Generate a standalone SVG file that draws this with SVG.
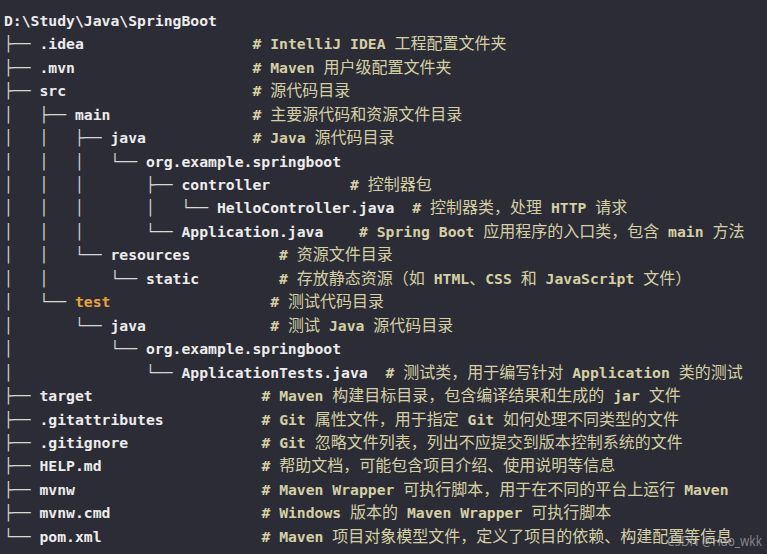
<svg xmlns="http://www.w3.org/2000/svg" width="767" height="554" viewBox="0 0 767 554">
<style>
text{font-family:"DejaVu Sans Mono","Liberation Mono","Noto Sans CJK SC",monospace;font-size:14.74px;font-weight:bold;white-space:pre}
.t{fill:#d8d8d8}
.n{fill:#ececec}
.o{fill:#e8a33a}
.m{fill:#d4d0a4}
.c{font-family:"Noto Sans CJK SC","Noto Sans",sans-serif;font-size:16px;font-weight:normal}
.w{font-family:"Noto Sans","Liberation Sans",sans-serif;font-size:14px;font-weight:normal;fill:#d0d0d0;fill-opacity:0.55}
</style>
<rect width="767" height="554" fill="#2c2c36"/>
<g id="connectors"></g>
<g id="line0"><text x="4" y="25.8" class="n" xml:space="preserve">D:\Study\Java\SpringBoot</text></g>
<g id="line1"><text x="4" y="49.3" class="t" xml:space="preserve">├── <tspan class="n">.idea</tspan></text><text x="252.5" y="49.3" class="m" xml:space="preserve">#<tspan> IntelliJ IDEA </tspan><tspan class="c">工程配置文件夹</tspan></text></g>
<g id="line2"><text x="4" y="72.7" class="t" xml:space="preserve">├── <tspan class="n">.mvn</tspan></text><text x="252.5" y="72.7" class="m" xml:space="preserve"># Maven <tspan class="c">用户级配置文件夹</tspan></text></g>
<g id="line3"><text x="4" y="96.2" class="t" xml:space="preserve">├── <tspan class="n">src</tspan></text><text x="252.5" y="96.2" class="m" xml:space="preserve"># <tspan class="c">源代码目录</tspan></text></g>
<g id="line4"><text x="4" y="119.6" class="t" xml:space="preserve">│   ├── <tspan class="n">main</tspan></text><text x="252.5" y="119.6" class="m" xml:space="preserve"># <tspan class="c">主要源代码和资源文件目录</tspan></text></g>
<g id="line5"><text x="4" y="143.1" class="t" xml:space="preserve">│   │   ├── <tspan class="n">java</tspan></text><text x="252.5" y="143.1" class="m" xml:space="preserve"># Java <tspan class="c">源代码目录</tspan></text></g>
<g id="line6"><text x="4" y="166.5" class="t" xml:space="preserve">│   │   │   └── <tspan class="n">org.example.springboot</tspan></text></g>
<g id="line7"><text x="4" y="190.0" class="t" xml:space="preserve">│   │   │       ├── <tspan class="n">controller</tspan></text><text x="350.1" y="190.0" class="m" xml:space="preserve"># <tspan class="c">控制器包</tspan></text></g>
<g id="line8"><text x="4" y="213.4" class="t" xml:space="preserve">│   │   │       │   └── <tspan class="n">HelloController.java</tspan></text><text x="412.3" y="213.4" class="m" xml:space="preserve"># <tspan class="c">控制器类，处理</tspan> HTTP <tspan class="c">请求</tspan></text></g>
<g id="line9"><text x="4" y="236.9" class="t" xml:space="preserve">│   │   │       └── <tspan class="n">Application.java</tspan></text><text x="359" y="236.9" class="m" xml:space="preserve"># Spring Boot <tspan class="c">应用程序的入口类，包含</tspan> main <tspan class="c">方法</tspan></text></g>
<g id="line10"><text x="4" y="260.3" class="t" xml:space="preserve">│   │   └── <tspan class="n">resources</tspan></text><text x="279.1" y="260.3" class="m" xml:space="preserve"># <tspan class="c">资源文件目录</tspan></text></g>
<g id="line11"><text x="4" y="283.8" class="t" xml:space="preserve">│   │       └── <tspan class="n">static</tspan></text><text x="279.1" y="283.8" class="m" xml:space="preserve"># <tspan class="c">存放静态资源（如</tspan> HTML<tspan class="c">、</tspan>CSS <tspan class="c">和</tspan> JavaScript <tspan class="c">文件）</tspan></text></g>
<g id="line12"><text x="4" y="307.2" class="t" xml:space="preserve">│   └── <tspan class="o">test</tspan></text><text x="270.3" y="307.2" class="m" xml:space="preserve"># <tspan class="c">测试代码目录</tspan></text></g>
<g id="line13"><text x="4" y="330.7" class="t" xml:space="preserve">│       └── <tspan class="n">java</tspan></text><text x="270.3" y="330.7" class="m" xml:space="preserve"># <tspan class="c">测试</tspan> Java <tspan class="c">源代码目录</tspan></text></g>
<g id="line14"><text x="4" y="354.1" class="t" xml:space="preserve">│           └── <tspan class="n">org.example.springboot</tspan></text></g>
<g id="line15"><text x="4" y="377.6" class="t" xml:space="preserve">│               └── <tspan class="n">ApplicationTests.java</tspan></text><text x="385.6" y="377.6" class="m" xml:space="preserve"># <tspan class="c">测试类，用于编写针对</tspan> Application <tspan class="c">类的测试</tspan></text></g>
<g id="line16"><text x="4" y="401.0" class="t" xml:space="preserve">├── <tspan class="n">target</tspan></text><text x="261.4" y="401.0" class="m" xml:space="preserve"># Maven <tspan class="c">构建目标目录，包含编译结果和生成的</tspan> jar <tspan class="c">文件</tspan></text></g>
<g id="line17"><text x="4" y="424.5" class="t" xml:space="preserve">├── <tspan class="n">.gitattributes</tspan></text><text x="261.4" y="424.5" class="m" xml:space="preserve"># Git <tspan class="c">属性文件，用于指定</tspan> Git <tspan class="c">如何处理不同类型的文件</tspan></text></g>
<g id="line18"><text x="4" y="447.9" class="t" xml:space="preserve">├── <tspan class="n">.gitignore</tspan></text><text x="261.4" y="447.9" class="m" xml:space="preserve"># Git <tspan class="c">忽略文件列表，列出不应提交到版本控制系统的文件</tspan></text></g>
<g id="line19"><text x="4" y="471.4" class="t" xml:space="preserve">├── <tspan class="n">HELP.md</tspan></text><text x="261.4" y="471.4" class="m" xml:space="preserve"># <tspan class="c">帮助文档，可能包含项目介绍、使用说明等信息</tspan></text></g>
<g id="line20"><text x="4" y="494.8" class="t" xml:space="preserve">├── <tspan class="n">mvnw</tspan></text><text x="261.4" y="494.8" class="m" xml:space="preserve"># Maven Wrapper <tspan class="c">可执行脚本，用于在不同的平台上运行</tspan> Maven</text></g>
<g id="line21"><text x="4" y="518.3" class="t" xml:space="preserve">├── <tspan class="n">mvnw.cmd</tspan></text><text x="261.4" y="518.3" class="m" xml:space="preserve"># Windows <tspan class="c">版本的</tspan> Maven Wrapper <tspan class="c">可执行脚本</tspan></text></g>
<g id="line22"><text x="4" y="541.7" class="t" xml:space="preserve">└── <tspan class="n">pom.xml</tspan></text><text x="261.4" y="541.7" class="m" xml:space="preserve"># Maven <tspan class="c">项目对象模型文件，定义了项目的依赖、构建配置等信息</tspan></text></g>
<g id="watermark"><text x="667" y="546" class="w" textLength="95" lengthAdjust="spacingAndGlyphs">CSDN @Hao_wkk</text></g>
</svg>
